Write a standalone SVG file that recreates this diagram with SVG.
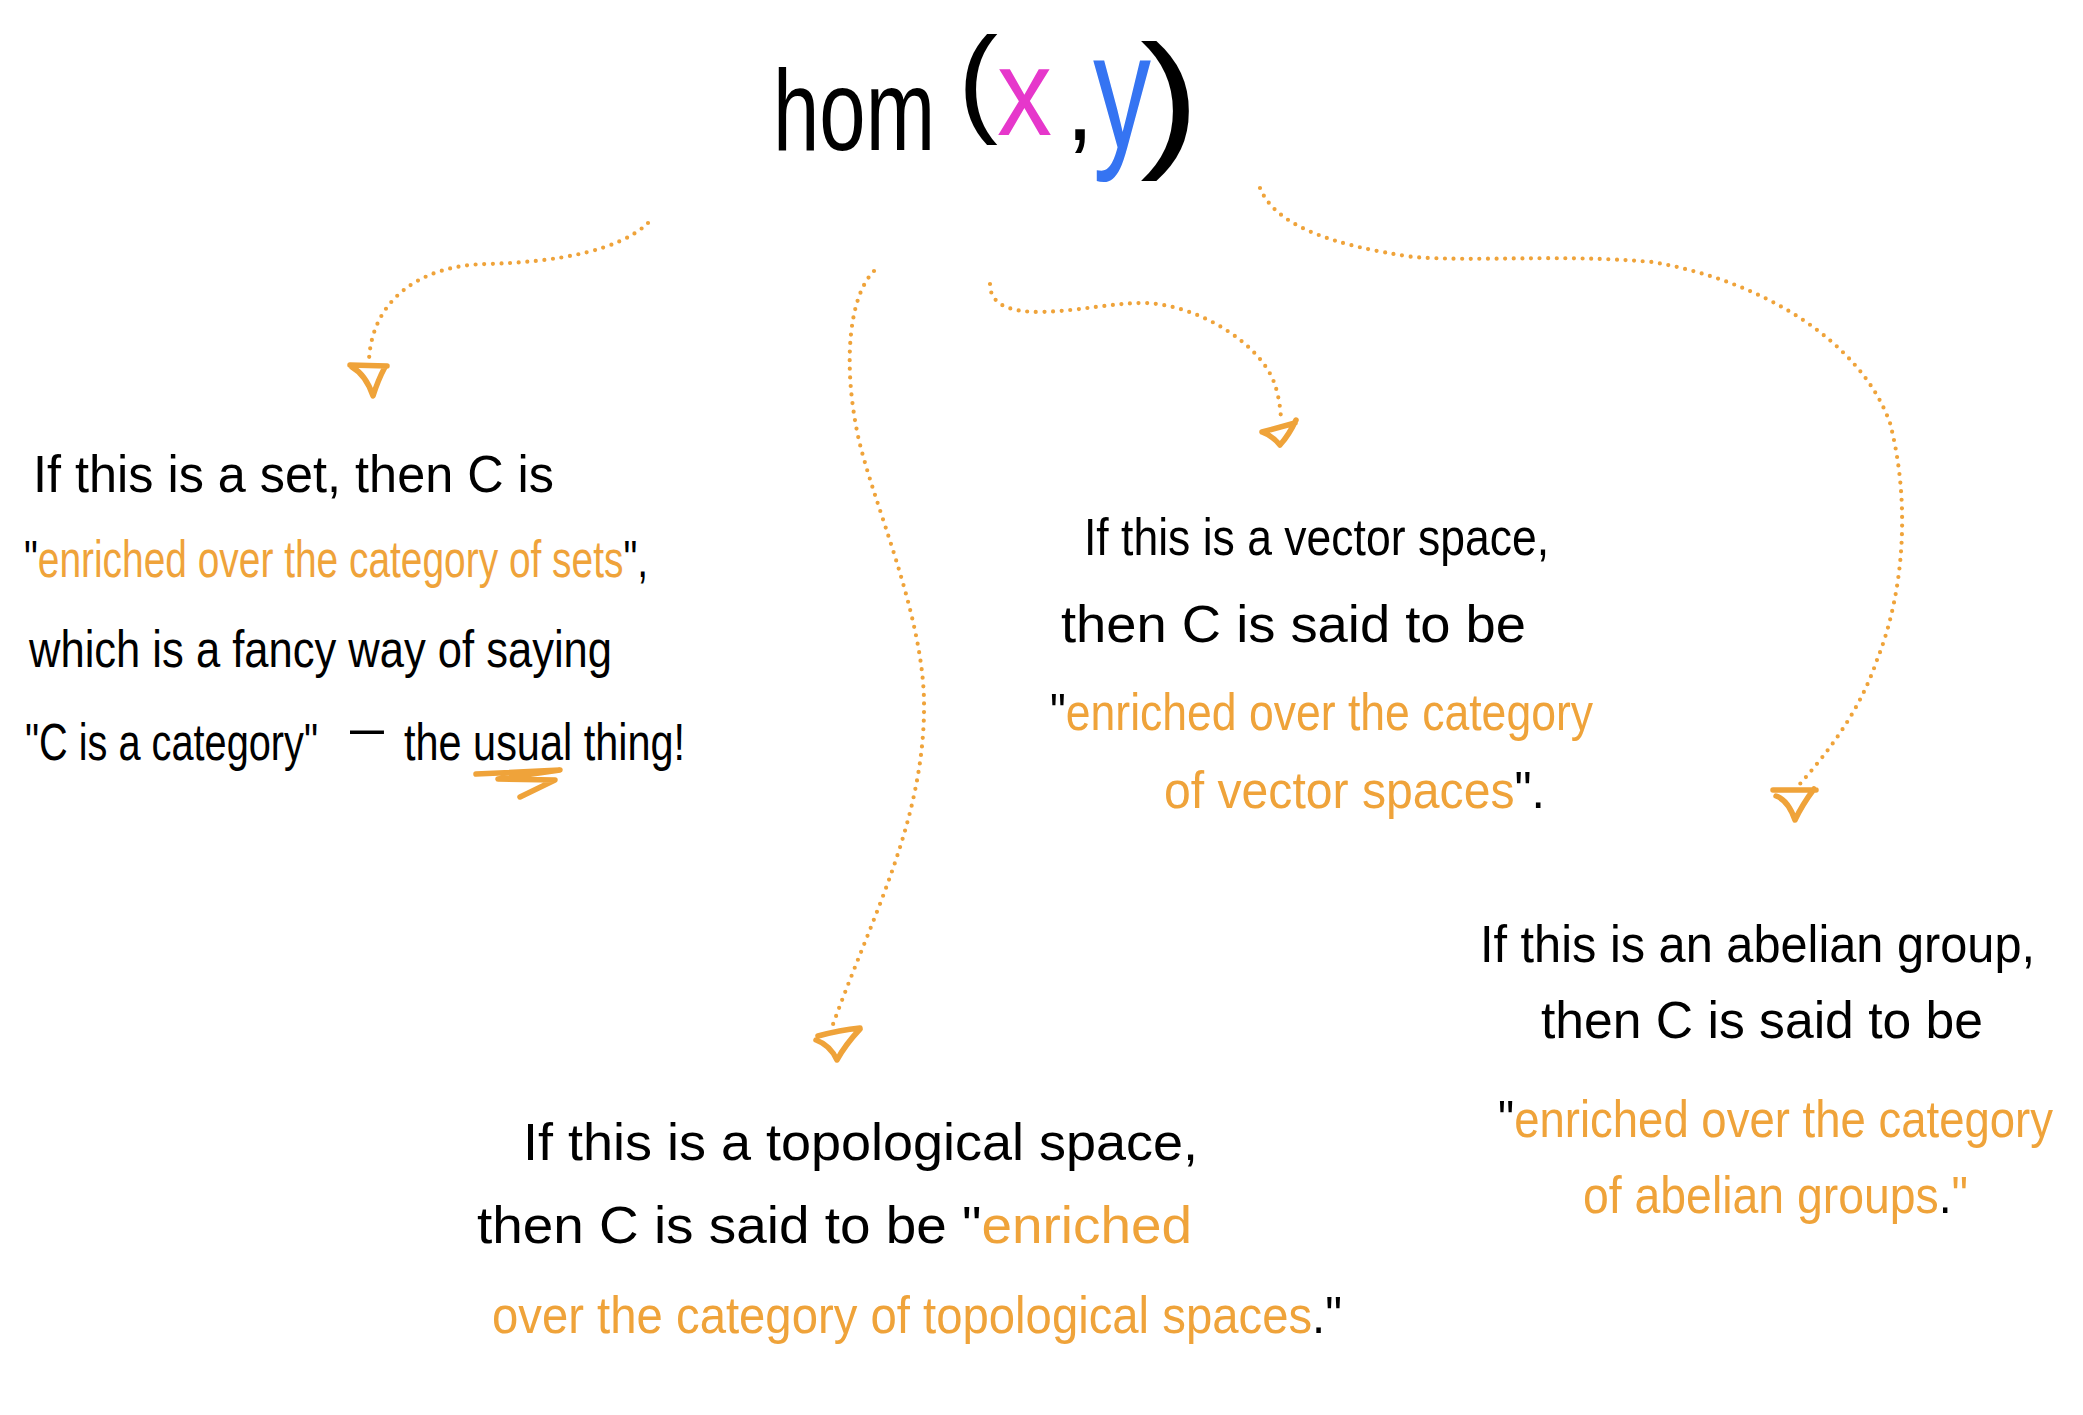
<svg xmlns="http://www.w3.org/2000/svg" width="2083" height="1415" viewBox="0 0 2083 1415">
<style>
.t{font-family:"Liberation Sans",Arial,sans-serif;font-size:52px}
.k{fill:#000}
.o{fill:#EFA33A}
.dot{fill:none;stroke:#EFA33A;stroke-width:4.2;stroke-linecap:round;stroke-dasharray:0 8.6}
.head{fill:none;stroke:#EFA33A;stroke-width:5.5;stroke-linecap:round;stroke-linejoin:round}
.title{font-family:"Liberation Sans",Arial,sans-serif}
</style>
<rect width="2083" height="1415" fill="#fff"/>

<g id="node-hom">
  <text class="title k" x="773" y="150" font-size="115" textLength="162" lengthAdjust="spacingAndGlyphs">hom</text>
  <text class="title k" x="958" y="120" font-size="118" textLength="40" lengthAdjust="spacingAndGlyphs">(</text>
  <text class="title" x="997" y="135" font-size="125" fill="#E637CB" textLength="55" lengthAdjust="spacingAndGlyphs">x</text>
  <text class="title k" x="1066" y="140" font-size="100">,</text>
  <text class="title" x="1093" y="148" font-size="165" fill="#3574F2" textLength="58" lengthAdjust="spacingAndGlyphs">y</text>
  <text class="title k" x="1140" y="150" font-size="150" textLength="60" lengthAdjust="spacingAndGlyphs">)</text>
</g>

<g id="node-set">
  <text class="t k" x="33" y="492" textLength="521" lengthAdjust="spacingAndGlyphs">If this is a set, then C is</text>
  <text class="t k" x="24" y="577" textLength="624" lengthAdjust="spacingAndGlyphs">"<tspan class="o">enriched over the category of sets</tspan>",</text>
  <text class="t k" x="29" y="667" textLength="583" lengthAdjust="spacingAndGlyphs">which is a fancy way of saying</text>
  <text class="t k" x="25" y="760" textLength="293" lengthAdjust="spacingAndGlyphs">"C is a category"</text>
  <text class="t k" x="350" y="745" textLength="34" lengthAdjust="spacingAndGlyphs">–</text>
  <text class="t k" x="404" y="760" textLength="281" lengthAdjust="spacingAndGlyphs">the usual thing!</text>
  <path class="head" d="M476,774 L560,770 L498,779 L555,780 L520,797"/>
</g>

<g id="node-vector">
  <text class="t k" x="1084" y="555" textLength="465" lengthAdjust="spacingAndGlyphs">If this is a vector space,</text>
  <text class="t k" x="1061" y="642" textLength="465" lengthAdjust="spacingAndGlyphs">then C is said to be</text>
  <text class="t k" x="1050" y="730" textLength="543" lengthAdjust="spacingAndGlyphs">"<tspan class="o">enriched over the category</tspan></text>
  <text class="t o" x="1164" y="808" textLength="381" lengthAdjust="spacingAndGlyphs">of vector spaces<tspan class="k">".</tspan></text>
</g>

<g id="node-topological">
  <text class="t k" x="523" y="1160" textLength="675" lengthAdjust="spacingAndGlyphs">If this is a topological space,</text>
  <text class="t k" x="477" y="1243" textLength="715" lengthAdjust="spacingAndGlyphs">then C is said to be "<tspan class="o">enriched</tspan></text>
  <text class="t o" x="492" y="1333" textLength="850" lengthAdjust="spacingAndGlyphs">over the category of topological spaces<tspan class="k">."</tspan></text>
</g>

<g id="node-abelian">
  <text class="t k" x="1480" y="962" textLength="555" lengthAdjust="spacingAndGlyphs">If this is an abelian group,</text>
  <text class="t k" x="1541" y="1038" textLength="442" lengthAdjust="spacingAndGlyphs">then C is said to be</text>
  <text class="t k" x="2053" y="1137" text-anchor="end" textLength="555" lengthAdjust="spacingAndGlyphs">"<tspan class="o">enriched over the category</tspan></text>
  <text class="t o" x="1583" y="1213" textLength="385" lengthAdjust="spacingAndGlyphs">of abelian groups<tspan class="k">.</tspan>"</text>
</g>

<g id="connectors">
  <path class="dot" d="M648,223 C620,250 560,262 487,264 C420,265 372,300 369,360"/>
  <path class="head" d="M350,365 L387,366 M352,367 Q366,375 373,396 Q378,380 385,367"/>

  <path class="dot" d="M874,271 C850,295 842,360 858,436 C872,500 922,610 924,700 C926,820 870,920 831,1030"/>
  <path class="head" d="M818,1036 Q840,1030 860,1028 M816,1040 Q830,1045 837,1060 Q845,1045 860,1029"/>

  <path class="dot" d="M990,284 C990,305 1010,312 1040,312 C1080,311 1110,303 1145,303 C1200,305 1262,345 1275,385 Q1280,400 1281,419"/>
  <path class="head" d="M1262,432 L1295,423 M1262,432 Q1273,436 1280,445 Q1289,435 1296,420"/>

  <path class="dot" d="M1260,188 C1275,225 1330,245 1413,257 C1480,262 1560,254 1652,262 C1760,280 1860,340 1890,423 C1910,500 1905,590 1877,660 C1860,710 1830,750 1799,785"/>
  <path class="head" d="M1773,790 L1816,790 M1776,796 Q1788,800 1795,820 Q1802,805 1814,789"/>
</g>
</svg>
